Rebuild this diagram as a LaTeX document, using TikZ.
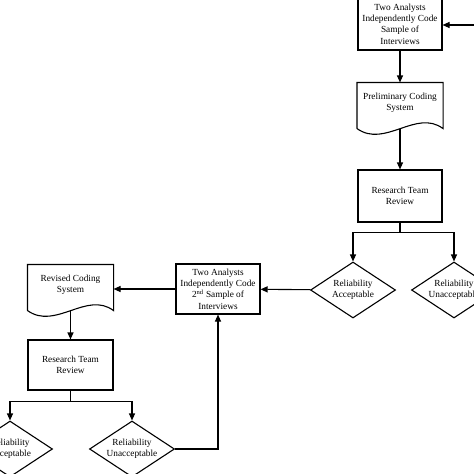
\documentclass[tikz,border=0pt]{standalone}
\usepackage{fontspec}
\setmainfont{Liberation Serif}
\usetikzlibrary{shapes.geometric,arrows.meta}

\begin{document}
\begin{tikzpicture}[x=1pt, y=-1pt, line width=1.1pt, >={Triangle[length=7pt,width=6pt]},
    font=\fontsize{9.3}{11.4}\selectfont,
    process/.style={draw, rectangle, align=center, minimum width=84pt, inner sep=1pt},
    doc/.style={rectangle, align=center, minimum width=85pt, minimum height=45pt, inner sep=1pt},
    decision/.style={draw, diamond, align=center, minimum width=85pt, minimum height=56pt, inner sep=0pt, aspect=1.6}]
    \useasboundingbox (0,0) rectangle (474,474);

    \node[process, minimum height=52pt] (B1) at (400,24) {Two Analysts\\Independently Code\\Sample of\\Interviews};
    \node[doc] (P1) at (400,105.5) {Preliminary Coding\\System\\[-4pt]};
    \node[process, minimum height=52pt] (R1) at (400,196) {Research Team\\Review};
    \node[decision] (D1) at (353,290) {Reliability\\Acceptable};
    \node[decision] (D2) at (454,290) {Reliability\\Unacceptable};
    \node[process, minimum height=50pt] (B2) at (218,289) {Two Analysts\\Independently Code\\2\textsuperscript{nd} Sample of\\Interviews};
    \node[doc] (P2) at (70.5,287.5) {Revised Coding\\System\\[-4pt]};
    \node[process, minimum width=85pt, minimum height=50pt] (R2) at (70.5,365) {Research Team\\Review};
    \node[decision] (D3) at (10,449) {Reliability\\Acceptable};
    \node[decision] (D4) at (132,449) {Reliability\\Unacceptable};
    \coordinate (in) at (480,25);

    % document outlines
    \draw (P1.south west) -- (P1.north west) -- (P1.north east) -- (P1.south east)
      .. controls +(-27,-20) and +(28,20) .. (P1.south west);
    \draw (P2.south west) -- (P2.north west) -- (P2.north east) -- (P2.south east)
      .. controls +(-27,-20) and +(28,20) .. (P2.south west);

    \draw[->] (in) -- (B1.east |- in);
    \draw[->] (B1) -- (P1);
    \draw[->] (P1) -- (R1);
    \draw[->] (R1.south) -- ++(0,10) -| (D1.north);
    \draw[->] (R1.south) -- ++(0,10) -| (D2.north);
    \draw[->] (D1) -- (B2);
    \draw[->] (B2.west) -- (B2.west -| P2.east);
    \draw[->] (P2) -- (R2);
    \draw[->] (R2.south) -- ++(0,11) -| (D3.north);
    \draw[->] (R2.south) -- ++(0,11) -| (D4.north);
    \draw[->] (D4.east) -| (B2.south);
  \end{tikzpicture}
\end{document}
